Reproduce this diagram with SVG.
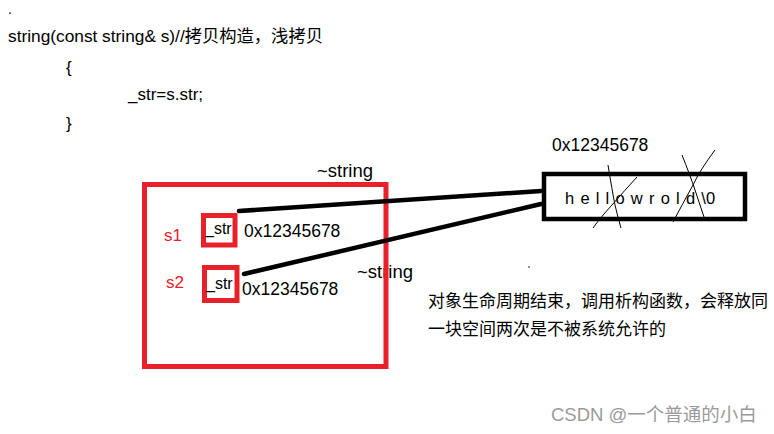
<svg xmlns="http://www.w3.org/2000/svg" width="774" height="434" viewBox="0 0 774 434">
<style>
text{font-family:"Liberation Sans","Noto Sans CJK SC",sans-serif;fill:#000}
.red{fill:#e8202a}
.rbox{fill:none;stroke:#e8202a;stroke-width:5}
.conn{stroke:#000;stroke-width:4.5;stroke-linecap:round;fill:none}
.scr{stroke:#000;stroke-width:1;fill:none}
</style>
<rect width="774" height="434" fill="#fff"/>
<g id="code">
<text x="8" y="14" font-size="14">.</text>
<text x="8" y="42" font-size="17.3">string(const string&amp; s)//拷贝构造，浅拷贝</text>
<text x="66" y="73" font-size="17">{</text>
<text x="128" y="100" font-size="17">_str=s.str;</text>
<text x="66" y="129" font-size="17">}</text>
</g>
<g id="label-dtor1"><text x="317" y="177" font-size="18.5">~string</text></g>
<g id="label-dtor2"><text x="357" y="278" font-size="18.5">~string</text></g>
<g id="objects">
<rect class="rbox" x="144.5" y="184.5" width="241.5" height="182"/>
</g>
<g id="s1">
<text class="red" x="164" y="241" font-size="17">s1</text>
<rect class="rbox" x="203.5" y="215.5" width="31.5" height="29.5" stroke-width="4.5"/>
<text x="205" y="234" font-size="16">_str</text>
<text x="244" y="237" font-size="17.5">0x12345678</text>
</g>
<g id="s2">
<text class="red" x="166" y="288" font-size="17">s2</text>
<rect class="rbox" x="204.5" y="267.5" width="32.5" height="33" stroke-width="4.5"/>
<text x="206" y="289" font-size="16">_str</text>
<text x="242" y="295" font-size="17.5">0x12345678</text>
</g>
<g id="heap">
<text x="552" y="151" font-size="17.5">0x12345678</text>
<rect x="544" y="174" width="201" height="45" fill="none" stroke="#000" stroke-width="4.5"/>
<text x="565" y="204" font-size="16.5" letter-spacing="6.2">hellowrold<tspan letter-spacing="0">\0</tspan></text>
<path class="scr" d="M608 165 Q612 190 615 205 Q618 218 621 228"/>
<path class="scr" d="M637 177 Q625 190 612 205 Q600 218 593 228"/>
<path class="scr" d="M682 155 Q690 175 695 190 Q700 205 705 220"/>
<path class="scr" d="M715 150 Q700 170 693 185 Q682 205 673 222"/>
</g>
<g id="connectors">
<line class="conn" x1="239" y1="211" x2="541" y2="191"/>
<line class="conn" x1="244" y1="274" x2="541" y2="204"/>
</g>
<g id="note">
<circle cx="529" cy="267" r="0.8" fill="#000"/>
<text x="428" y="307" font-size="17">对象生命周期结束，调用析构函数，会释放同</text>
<text x="428" y="335" font-size="17">一块空间两次是不被系统允许的</text>
</g>
<g id="watermark"><text x="551" y="421" font-size="18.5" style="fill:#9a9a9a">CSDN @一个普通的小白</text></g>
</svg>
